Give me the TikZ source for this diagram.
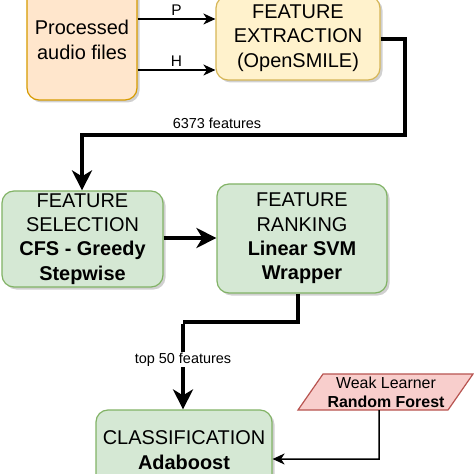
\documentclass[tikz,border=0pt]{standalone}
\usepackage{fontspec}
\setmainfont{Liberation Sans}
\usetikzlibrary{arrows.meta,shadows}
\definecolor{orfill}{HTML}{FFE6CC}
\definecolor{ordraw}{HTML}{D79B00}
\definecolor{yefill}{HTML}{FFF2CC}
\definecolor{yedraw}{HTML}{D6B656}
\definecolor{grfill}{HTML}{D5E8D4}
\definecolor{grdraw}{HTML}{82B366}
\definecolor{rdfill}{HTML}{F8CECC}
\definecolor{rddraw}{HTML}{B85450}
\begin{document}
\begin{tikzpicture}[x=1bp,y=-1bp,
  box/.style={draw, line width=1.2bp, rounded corners=12bp, align=center, inner sep=0pt,
    font=\fontsize{20}{24.5}\selectfont,
    drop shadow={shadow xshift=2.5bp, shadow yshift=-2.5bp, opacity=0.3, fill=black!60}},
  thinarrow/.style={line width=1.5bp, -{Stealth[length=12bp,width=11bp,inset=3.5bp]}},
  thickarrow/.style={line width=3.5bp, -{Stealth[length=20bp,width=20bp,inset=6bp]}},
  thickline/.style={line width=3.5bp},
  lab/.style={font=\fontsize{14.5}{17}\selectfont, inner sep=1bp},
  plab/.style={font=\fontsize{15.5}{18}\selectfont, inner sep=0pt}
]
\useasboundingbox[fill=white] (0,0) rectangle (474,474);

\node[box, fill=orfill, draw=ordraw, minimum width=110bp, minimum height=120bp] (audio) at (82,40)
  {Processed\\audio files};
\node[box, fill=yefill, draw=yedraw, minimum width=164bp, minimum height=84bp] (ext) at (298,38)
  {FEATURE\\EXTRACTION\\(OpenSMILE)};
\node[box, fill=grfill, draw=grdraw, minimum width=161bp, minimum height=96bp] (sel) at (82.5,239)
  {FEATURE\\SELECTION\\\textbf{CFS - Greedy}\\\textbf{Stepwise}};
\node[box, fill=grfill, draw=grdraw, minimum width=170bp, minimum height=109bp] (rank) at (302,238.5)
  {FEATURE\\RANKING\\\textbf{Linear SVM}\\\textbf{Wrapper}};
\node[box, fill=grfill, draw=grdraw, minimum width=176bp, minimum height=80bp] (cls) at (184,450)
  {CLASSIFICATION\\\textbf{Adaboost}};

\fill[rdfill] (298,410) -- (323,374) -- (473,374) -- (448,410) -- cycle;
\draw[rddraw, line width=1.2bp] (298,410) -- (323,374) -- (473,374) -- (448,410) -- cycle;
\node[align=center, inner sep=0pt, minimum width=150bp, minimum height=36bp,
  font=\fontsize{16}{19}\selectfont] (wl) at (386,392)
  {Weak Learner\\\textbf{Random Forest}};

% P and H
\draw[thinarrow] (audio.east |- 0,19) -- node[plab, above=3bp] {P} (ext.west |- 0,19);
\draw[thinarrow] (audio.east |- 0,70) -- node[plab, above=3bp] {H} (ext.west |- 0,70);

% extraction -> selection
\coordinate (c1) at (405,39);
\coordinate (c2) at (405,135);
\coordinate (c3) at (82,135);
\draw[thickline] (ext.east |- c1) -- (c1) -- (c2) -- (c3);
\draw[thickarrow] ([yshift=1.75bp]c3) -- (sel.north -| c3);
\node[lab, anchor=base] (n6373) at (217,129) {6373 features};

% selection -> ranking
\draw[thickarrow] (sel.east |- 0,238) -- (rank.west |- 0,238);

% ranking -> classification
\coordinate (d1) at (298,322);
\coordinate (d2) at (183,322);
\draw[thickline] (rank.south -| d1) -- (d1) -- (d2);
\draw[thickarrow] ([yshift=-1.75bp]d2) -- (cls.north -| d2)
  node[pos=0.42, lab, fill=white] (top50) {top 50 features};

% weak learner -> classification
\coordinate (e1) at (379,459);
\draw[thinarrow] ([xshift=-7bp]wl.south) -- (e1) -- (cls.east |- e1);
\end{tikzpicture}
\end{document}
